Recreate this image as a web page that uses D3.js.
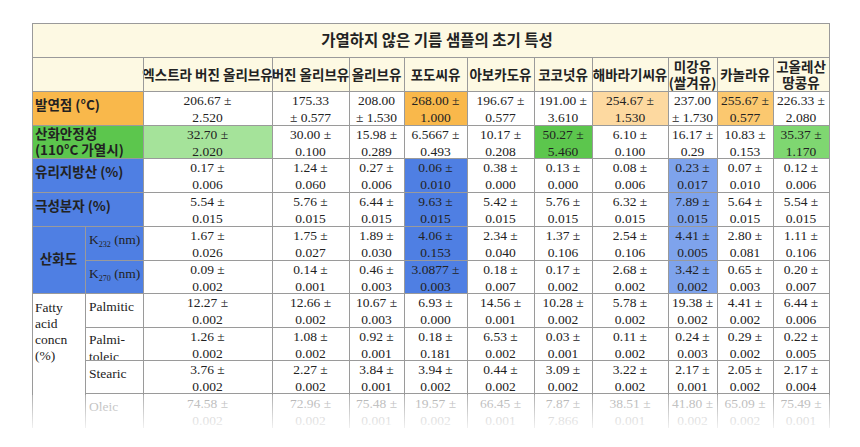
<!DOCTYPE html>
<html><head><meta charset="utf-8">
<script src="https://cdn.jsdelivr.net/npm/d3@7"></script>
<style>body{margin:0;background:#fff}</style>
</head><body><svg id="t" width="860" height="447"></svg>
<script>
const title = '가열하지 않은 기름 샘플의 초기 특성';
const oils = ['엑스트라 버진 올리브유', '버진 올리브유', '올리브유', '포도씨유', '아보카도유', '코코넛유', '해바라기씨유', '미강유|(쌀겨유)', '카놀라유', '고올레산|땅콩유'];
const rowLabels = ['발연점 (°C)', '산화안정성|(110°C 가열시)', '유리지방산 (%)', '극성분자 (%)', 'K232 (nm)', 'K270 (nm)', 'Palmitic', 'Palmi-|toleic', 'Stearic', 'Oleic'];
const smokePoint = ['206.67 ±|2.520', '175.33|± 0.577', '208.00|± 1.530', '268.00 ±|1.000', '196.67 ±|0.577', '191.00 ±|3.610', '254.67 ±|1.530', '237.00|± 1.730', '255.67 ±|0.577', '226.33 ±|2.080'];
const oxStability = ['32.70 ±|2.020', '30.00 ±|0.100', '15.98 ±|0.289', '6.5667 ±|0.493', '10.17 ±|0.208', '50.27 ±|5.460', '6.10 ±|0.100', '16.17 ±|0.29', '10.83 ±|0.153', '35.37 ±|1.170'];
const ffa = ['0.17 ±|0.006', '1.24 ±|0.060', '0.27 ±|0.006', '0.06 ±|0.010', '0.38 ±|0.000', '0.13 ±|0.000', '0.08 ±|0.006', '0.23 ±|0.017', '0.07 ±|0.010', '0.12 ±|0.006'];
const polar = ['5.54 ±|0.015', '5.76 ±|0.015', '6.44 ±|0.015', '9.63 ±|0.015', '5.42 ±|0.015', '5.76 ±|0.015', '6.32 ±|0.015', '7.89 ±|0.015', '5.64 ±|0.015', '5.54 ±|0.015'];
const k232 = ['1.67 ±|0.026', '1.75 ±|0.027', '1.89 ±|0.030', '4.06 ±|0.153', '2.34 ±|0.040', '1.37 ±|0.106', '2.54 ±|0.106', '4.41 ±|0.005', '2.80 ±|0.081', '1.11 ±|0.106'];
const k270 = ['0.09 ±|0.002', '0.14 ±|0.001', '0.46 ±|0.003', '3.0877 ±|0.003', '0.18 ±|0.007', '0.17 ±|0.002', '2.68 ±|0.002', '3.42 ±|0.002', '0.65 ±|0.003', '0.20 ±|0.007'];
const palmitic = ['12.27 ±|0.002', '12.66 ±|0.002', '10.67 ±|0.003', '6.93 ±|0.000', '14.56 ±|0.001', '10.28 ±|0.002', '5.78 ±|0.002', '19.38 ±|0.002', '4.41 ±|0.002', '6.44 ±|0.006'];
const palmitoleic = ['1.26 ±|0.002', '1.08 ±|0.002', '0.92 ±|0.001', '0.18 ±|0.181', '6.53 ±|0.002', '0.03 ±|0.001', '0.11 ±|0.002', '0.24 ±|0.003', '0.29 ±|0.002', '0.22 ±|0.005'];
const stearic = ['3.76 ±|0.002', '2.27 ±|0.002', '3.84 ±|0.001', '3.94 ±|0.002', '0.44 ±|0.002', '3.09 ±|0.002', '3.22 ±|0.002', '2.17 ±|0.001', '2.05 ±|0.002', '2.17 ±|0.004'];
const oleic = ['74.58 ±|0.002', '72.96 ±|0.002', '75.48 ±|0.001', '19.57 ±|0.002', '66.45 ±|0.001', '7.87 ±|7.866', '38.51 ±|0.001', '41.80 ±|0.002', '65.09 ±|0.002', '75.49 ±|0.001'];
// highlight level per cell (0 none, 1 light, 2 mid, 3 strong)
const smokeHi = [0, 0, 0, 3, 0, 0, 1, 0, 2, 0];
const oxHi = [1, 0, 0, 0, 0, 3, 0, 0, 0, 2];
const blueHi = [0, 0, 0, 3, 0, 0, 0, 2, 0, 0];

const values = [smokePoint, oxStability, ffa, polar, k232, k270, palmitic, palmitoleic, stearic, oleic];
const hiRows = [smokeHi, oxHi, blueHi, blueHi, blueHi, blueHi, null, null, null, null];
const bluePal = {head: '#4f7fe3', lv: [null, '#9bb8f0', '#7ea3ec', '#4f7fe3']};
const palettes = [
  {head: '#f9b84b', lv: [null, '#fdd9a0', '#fbc86f', '#f9b84b']},
  {head: '#5cc64d', lv: [null, '#a5e39a', '#7fd771', '#5cc64d']},
  bluePal, bluePal, bluePal, bluePal
];

// layout
const colEdges = [143, 272, 349, 404, 467, 534, 592, 668, 717, 773, 829];
const rowEdges = [91, 125, 158, 192, 226, 260, 293, 327, 360, 393, 428];
const tLeft = 32, subX = 85, tTop = 23, headTop = 57, tRight = 829;
const cream = '#fdf9e3', grid = '#9a9a9a';
const KR = '"Noto Sans CJK KR", "Noto Sans", sans-serif';
const SERIF = '"Liberation Serif", "DejaVu Serif", serif';

const svg = d3.select('#t');
const colX = d3.scaleOrdinal(d3.range(11), colEdges);
const rowY = d3.scaleOrdinal(d3.range(11), rowEdges);

function lines(g, str, x, y, opts) {
  const parts = str.split('|');
  const lh = opts.lh || 17;
  const y0 = y - (parts.length - 1) * lh / 2;
  parts.forEach((p, i) => {
    g.append('text').attr('x', x).attr('y', y0 + i * lh)
      .attr('dy', '0.35em')
      .attr('text-anchor', opts.anchor || 'middle')
      .attr('font-family', opts.font).attr('font-size', opts.size)
      .attr('font-weight', opts.weight || 'normal')
      .attr('fill', opts.fill || '#222')
      .text(p);
  });
}

// title + header backgrounds
svg.append('rect').attr('x', tLeft).attr('y', tTop).attr('width', tRight - tLeft).attr('height', rowEdges[0] - tTop).attr('fill', cream);
svg.append('text').attr('x', 437).attr('y', 41).attr('dy', '0.35em').attr('text-anchor', 'middle')
  .attr('font-family', KR).attr('font-size', 15.5).attr('font-weight', 'bold').attr('fill', '#222').text(title);

oils.forEach((o, i) => {
  lines(svg, o, (colX(i) + colX(i + 1)) / 2, (headTop + rowEdges[0]) / 2 + 1, {font: KR, size: 13.5, weight: 'bold', lh: 16});
});

// body cells
values.forEach((row, r) => {
  const y0 = rowY(r), y1 = rowY(r + 1);
  const pal = palettes[r];
  if (pal) {
    svg.append('rect').attr('x', tLeft).attr('y', y0).attr('width', colEdges[0] - tLeft).attr('height', y1 - y0).attr('fill', pal.head);
  }
  row.forEach((v, c) => {
    const lv = hiRows[r] ? hiRows[r][c] : 0;
    if (lv) svg.append('rect').attr('x', colX(c)).attr('y', y0).attr('width', colX(c + 1) - colX(c)).attr('height', y1 - y0).attr('fill', pal.lv[lv]);
    lines(svg, v, (colX(c) + colX(c + 1)) / 2, (y0 + y1) / 2 + 1, {font: SERIF, size: 13.5, lh: 17, fill: r === 9 ? '#999' : '#222'});
  });
});

// row labels
rowLabels.slice(0, 4).forEach((l, r) => {
  lines(svg, l, tLeft + 3, r === 1 ? (rowY(r) + rowY(r + 1)) / 2 + 1 : rowY(r) + 14, {font: KR, size: 13.5, weight: 'bold', anchor: 'start', lh: 16});
});
lines(svg, '산화도', (tLeft + subX) / 2, (rowY(4) + rowY(6)) / 2, {font: KR, size: 13.5, weight: 'bold'});
[4, 5].forEach(r => {
  const t = svg.append('text').attr('x', subX + 4).attr('y', rowY(r) + 13).attr('dy', '0.35em')
    .attr('font-family', SERIF).attr('font-size', 13.5).attr('fill', '#222');
  t.append('tspan').text('K');
  t.append('tspan').attr('font-size', 8).attr('dy', 3).text(r === 4 ? '232' : '270');
  t.append('tspan').attr('dy', -3).text(' (nm)');
});
[6, 7, 8, 9].forEach(r => {
  lines(svg, rowLabels[r], subX + 4, rowY(r) + 13 + (rowLabels[r].includes('|') ? 8 : 0), {font: SERIF, size: 13.5, anchor: 'start', lh: 17, fill: r === 9 ? '#999' : '#222'});
});
lines(svg, 'Fatty|acid|concn|(%)', tLeft + 3, rowY(6) + 13 + 25, {font: SERIF, size: 13.5, anchor: 'start', lh: 16});

// grid lines
const gl = svg.append('g').attr('stroke', grid).attr('stroke-width', 1).attr('shape-rendering', 'crispEdges');
gl.append('line').attr('x1', tLeft).attr('x2', tRight).attr('y1', headTop).attr('y2', headTop);
rowEdges.slice(0, 10).forEach((y, i) => {
  const x1 = i === 5 || i >= 7 ? subX : tLeft;
  gl.append('line').attr('x1', x1).attr('x2', tRight).attr('y1', y).attr('y2', y);
});
colEdges.forEach(x => {
  gl.append('line').attr('x1', x).attr('x2', x).attr('y1', headTop).attr('y2', rowEdges[10]);
});
gl.append('line').attr('x1', subX).attr('x2', subX).attr('y1', rowY(4)).attr('y2', rowEdges[10]);
gl.append('line').attr('x1', tLeft).attr('x2', tLeft).attr('y1', tTop).attr('y2', rowEdges[10]);
gl.append('line').attr('x1', tRight).attr('x2', tRight).attr('y1', tTop).attr('y2', rowEdges[10]);
gl.append('line').attr('x1', tLeft).attr('x2', tRight).attr('y1', tTop).attr('y2', tTop);

// fade-out at the bottom
const grad = svg.append('defs').append('linearGradient').attr('id', 'fade').attr('x1', 0).attr('x2', 0).attr('y1', 0).attr('y2', 1);
grad.append('stop').attr('offset', 0).attr('stop-color', '#fff').attr('stop-opacity', 0.2);
grad.append('stop').attr('offset', 1).attr('stop-color', '#fff').attr('stop-opacity', 1);
svg.append('rect').attr('x', 0).attr('y', 395).attr('width', 860).attr('height', 40).attr('fill', 'url(#fade)');
</script></body></html>
